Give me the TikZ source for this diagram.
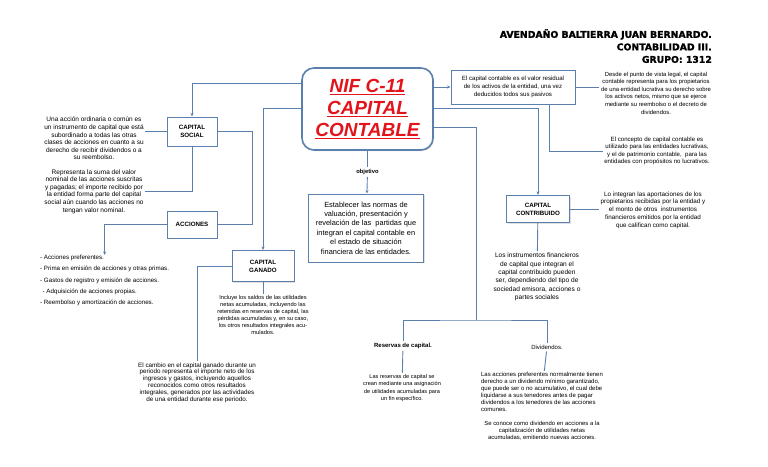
\documentclass[tikz,border=0pt]{standalone}
\usepackage{fontspec}
\setmainfont{Liberation Sans}
\newfontfamily\heavyfont{DejaVu Sans}[FakeBold=1.6]
\usetikzlibrary{arrows.meta,shadows}
\definecolor{linkblue}{HTML}{5B80AE}
\definecolor{nifred}{HTML}{E3131B}
\newcommand\nifline[1]{\setbox0\hbox{#1}\rlap{\copy0}\rule[-2.6pt]{\wd0}{1.2pt}}
\tikzset{
  >={Stealth[length=3.5pt,width=3pt]},
  conn/.style={linkblue, line width=0.9pt},
  shade box/.style={draw=linkblue, fill=white, line width=1pt,
    drop shadow={opacity=0.25, shadow xshift=1pt, shadow yshift=-1pt}},
  capbox/.style={shade box, align=center, inner sep=1pt,
    font=\fontsize{6.2}{8}\selectfont\bfseries},
  note/.style={align=center, inner sep=1.5pt, font=\fontsize{5.9}{7.6}\selectfont},
  small note/.style={note, font=\fontsize{5.2}{6.6}\selectfont},
}
\begin{document}
\begin{tikzpicture}[x=1pt,y=-1pt]
\useasboundingbox (0,0) rectangle (768,466);

\node[anchor=north east, align=right, inner sep=0pt,
  font=\heavyfont\bfseries\fontsize{9.3}{12.5}\selectfont] (autor) at (712,29)
  {AVENDAÑO BALTIERRA JUAN BERNARDO.\\CONTABILIDAD III.\\GRUPO: 1312};

\node[shade box, line width=1.6pt, rounded corners=12pt, minimum width=131pt,
  minimum height=82pt, align=center, text=nifred,
  font=\fontsize{19}{22}\selectfont\bfseries\itshape] (nif) at (367.5,109)
  {\nifline{NIF C-11}\\\nifline{CAPITAL}\\\nifline{CONTABLE}};

% izquierda
\node[capbox, minimum width=50pt, minimum height=29pt] (capsoc) at (192,131.5) {CAPITAL\\SOCIAL};
\node[capbox, minimum width=50pt, minimum height=27pt] (acciones) at (192,224.5) {ACCIONES};
\node[capbox, minimum width=62pt, minimum height=31pt] (capgan) at (263,266) {CAPITAL\\GANADO};

\node[note, font=\fontsize{6.5}{7.6}\selectfont] (txtacc) at (94,138.5) {Una acción ordinaria o común es\\un instrumento de capital que está\\subordinado a todas las otras\\clases de acciones en cuanto a su\\derecho de recibir dividendos o a\\su reembolso.};
\node[note, font=\fontsize{6.5}{7.6}\selectfont] (txtrep) at (94,191.5) {Representa la suma del valor\\nominal de las acciones suscritas\\y pagadas; el importe recibido por\\la entidad forma parte del capital\\social aún cuando las acciones no\\tengan valor nominal.};
\node[anchor=north west, align=left, inner sep=0pt,
  font=\fontsize{6.2}{11.2}\selectfont] (lista) at (40,255)
  {- Acciones preferentes.\\- Prima en emisión de acciones y otras primas.\\- Gastos de registro y emisión de acciones.\\\hspace*{2.5pt}- Adquisición de acciones propias.\\- Reembolso y amortización de acciones.};
\node[small note, font=\fontsize{5.7}{7}\selectfont] (txtinc) at (263,315) {Incluye los saldos de las utilidades\\netas acumuladas, incluyendo las\\retenidas en reservas de capital, las\\pérdidas acumuladas y, en su caso,\\los otros resultados integrales acu-\\mulados.};
\node[small note, font=\fontsize{6.3}{6.8}\selectfont] (txtcambio) at (197,382.5) {El cambio en el capital ganado durante un\\periodo representa el importe neto de los\\ingresos y gastos, incluyendo aquellos\\reconocidos como otros resultados\\integrales, generados por las actividades\\de una entidad durante ese periodo.};

% centro
\node[inner sep=2pt, font=\fontsize{5.8}{6}\selectfont\bfseries] (objetivo) at (367.5,172) {objetivo};
\node[shade box, minimum width=115pt, minimum height=68pt, align=center,
  font=\fontsize{7.4}{9.4}\selectfont] (estab) at (366,228)
  {Establecer las normas de\\valuación, presentación y\\revelación de las \ partidas que\\integran el capital contable en\\el estado de situación\\financiera de las entidades.};
\node[inner sep=2pt, font=\fontsize{6}{6}\selectfont\bfseries] (reservas) at (403,346) {Reservas de capital.};
\node[inner sep=2pt, font=\fontsize{6}{6}\selectfont] (dividendos) at (547,347) {Dividendos.};
\node[note, font=\fontsize{5.6}{7.3}\selectfont] (txtreservas) at (402,388) {Las reservas de capital se\\crean mediante una asignación\\de utilidades acumuladas para\\un fin específico.};
\node[note, align=left, font=\fontsize{6}{6.9}\selectfont] (txtdivid) at (542,392) {Las acciones preferentes normalmente tienen\\derecho a un dividendo mínimo garantizado,\\que puede ser o no acumulativo, el cual debe\\liquidarse a sus tenedores antes de pagar\\dividendos a los tenedores de las acciones\\comunes.};
\node[note, font=\fontsize{5.9}{7.2}\selectfont] (txtconoce) at (542,431) {Se conoce como dividendo en acciones a la\\capitalización de utilidades netas\\acumuladas, emitiendo nuevas acciones.};

% derecha
\node[shade box, minimum width=124pt, minimum height=34pt, align=center,
  font=\fontsize{6.1}{7.6}\selectfont] (residual) at (513,87)
  {El capital contable es el valor residual\\de los activos de la entidad, una vez\\deducidos todos sus pasivos};
\node[capbox, minimum width=63pt, minimum height=27pt] (capcon) at (538,209) {CAPITAL\\CONTRIBUIDO};
\node[note] (txtdesde) at (656,93) {Desde el punto de vista legal, el capital\\contable representa para los propietarios\\de una entidad lucrativa su derecho sobre\\los activos netos, mismo que se ejerce\\mediante su reembolso o el decreto de\\dividendos.};
\node[note, font=\fontsize{6.1}{7.6}\selectfont] (txtconcepto) at (657,151) {El concepto de capital contable es\\utilizado para las entidades lucrativas,\\y el de patrimonio contable, \ para las\\entidades con propósitos no lucrativos.};
\node[note, font=\fontsize{6.3}{7.8}\selectfont] (txtintegran) at (653,210) {Lo integran las aportaciones de los\\propietarios recibidas por la entidad y\\el monto de otros \ instrumentos\\financieros emitidos por la entidad\\que califican como capital.};
\node[note, font=\fontsize{6.6}{8.4}\selectfont] (txtinstr) at (537,277) {Los instrumentos financieros\\de capital que integran el\\capital contribuido pueden\\ser, dependiendo del tipo de\\sociedad emisora, acciones o\\partes sociales};

\coordinate (junc) at (476,320);

\draw[conn,->] (nif.west |- 0,83) -| (capsoc);
\draw[conn,->] (nif.west |- 0,108) -| (capgan);
\draw[conn] (capsoc) -- (txtacc.east |- capsoc);
\draw[conn] (capsoc) |- (txtrep);
\draw[conn] (capsoc.east) -- ++(35,0) |- (acciones);
\draw[conn,->] (acciones) -| (lista.north);
\draw[conn] (capgan) -- (txtinc);
\draw[conn] (capgan) -| (txtcambio);
\draw[conn] (nif) -- (objetivo);
\draw[conn,->] (objetivo) -- (estab);
\draw[conn,->] (nif.east |- residual) -- (residual);
\draw[conn] (residual) -- (txtdesde.west |- residual);
\draw[conn] (residual.south -| 549,0) |- (txtconcepto);
\draw[conn,->] (nif.east |- 0,108) -| (capcon);
\draw[conn] (capcon) -- (txtintegran.west |- capcon);
\draw[conn] (capcon) -- (txtinstr);
\draw[conn] (nif.east |- 0,127) -| (junc);
\draw[conn] (reservas) |- (junc) -| (dividendos);
\draw[conn] (reservas) -- (txtreservas);
\draw[conn] (dividendos) -- (txtdivid);
\end{tikzpicture}
\end{document}
